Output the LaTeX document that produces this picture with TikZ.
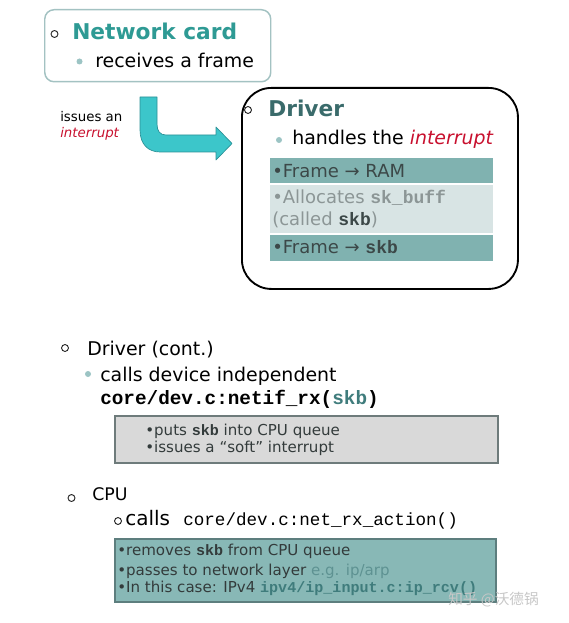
\documentclass[tikz,border=0pt]{standalone}
\usepackage{fontspec}
\setmainfont{DejaVu Sans}
\setmonofont{Liberation Mono}
\newfontfamily\cjkfont{Noto Sans CJK SC}
\usepackage{tikz}
\usetikzlibrary{
  positioning,
  calc
}
\definecolor{rxTeal}{HTML}{2E9A94}
\definecolor{rxDark}{HTML}{3A6B6B}
\definecolor{rxDot}{HTML}{9CC4C4}
\definecolor{rxFrame}{HTML}{A3C2C2}
\definecolor{rxArrow}{HTML}{3CC6CA}
\definecolor{rxArrowEdge}{HTML}{2B9096}
\definecolor{rxRed}{HTML}{C8102E}
\definecolor{rxBar}{HTML}{80B2B0}
\definecolor{rxBarLight}{HTML}{D8E4E4}
\definecolor{rxBarText}{HTML}{3C4848}
\definecolor{rxBarMute}{HTML}{8C9696}
\definecolor{rxGrey}{HTML}{D9D9D9}
\definecolor{rxGreyEdge}{HTML}{6E7B7B}
\definecolor{rxQueue}{HTML}{88B8B6}
\definecolor{rxQueueEdge}{HTML}{5D7E7E}
\definecolor{rxHint}{HTML}{5E9292}
\definecolor{rxCode}{HTML}{3F7C7C}
\definecolor{rxInk}{HTML}{333B3B}
\newcommand\rxcode[1]{{\ttfamily\bfseries #1}}
\tikzset{
  rxtext/.style={inner sep=0pt, anchor=base west},
  rxhead/.style={rxtext, font=\fontsize{16.3}{19}\selectfont\bfseries},
  rxitem/.style={rxtext, font=\fontsize{14.2}{17}\selectfont},
  rxnote/.style={rxtext, font=\fontsize{10}{12}\selectfont},
  rxsmall/.style={rxtext, font=\fontsize{11.3}{13}\selectfont, text=rxInk},
  rxbartext/.style={rxtext, font=\fontsize{13.5}{16}\selectfont, text=rxBarText},
  ring/.style={circle, draw=black!85, line width=0.7pt, minimum size=5.2pt, inner sep=0pt},
  dotmark/.style={circle, fill=rxDot, minimum size=4.5pt, inner sep=0pt},
  cardbox/.style={draw=rxFrame, line width=1.1pt, rounded corners=7pt, fill=white, anchor=north west, inner sep=0pt},
  drvbox/.style={draw=black, line width=1.4pt, rounded corners=22pt, anchor=north west, inner sep=0pt},
  strip/.style={fill=rxBar, anchor=north west, inner sep=0pt, minimum width=167.25pt},
  greybox/.style={fill=rxGrey, draw=rxGreyEdge, line width=1.4pt, anchor=north west, inner sep=0pt},
  queuebox/.style={fill=rxQueue, draw=rxQueueEdge, line width=1.4pt, anchor=north west, inner sep=0pt},
  bigarrow/.style={fill=rxArrow, draw=rxArrowEdge, line width=0.5pt, line join=round}
}
\begin{document}
\begin{tikzpicture}[x=0.75pt, y=-0.75pt, node distance=12pt]
  \useasboundingbox (0,0) rectangle (568,623);
  \node[cardbox, minimum width=169.5pt, minimum height=54pt] (nic) at (44,9) {};
  \node[ring] (nicring) at (54.5,34) {};
  \node[rxhead, text=rxTeal] (nictitle) at (72,40) {Network card};
  \node[dotmark] (nicdot) at (79.5,61.5) {};
  \node[rxitem] (nicitem) at (95,68) {receives a frame};

  \node[rxnote] (issue) at (60,122) {issues an};
  \node[rxnote, text=rxRed, below=12pt of issue.base west, anchor=base west] (issuered) {\itshape interrupt};
  \filldraw[bigarrow] (140,97) -- (157,97) -- (157,124) .. controls (157,131) and (160,135) .. (166,135)
    -- (216,135) -- (216,127) -- (232,143.5) -- (216,160) -- (216,152) -- (160,152)
    .. controls (148,152) and (140,144) .. (140,130) -- cycle;

  \node[drvbox, minimum width=207pt, minimum height=150.75pt] (drv) at (241,87) {};
  \node[ring] (drvring) at (248,110) {};
  \node[rxhead, text=rxDark] (drvtitle) at (268,117) {Driver};
  \node[dotmark] (drvdot) at (279,140) {};
  \node[rxitem] (drvitem) at (292,145) {handles the \textcolor{rxRed}{\itshape interrupt}};
  \node[strip, minimum height=18.75pt] (ram) at (270,158) {};
  \node[strip, fill=rxBarLight, minimum height=36pt] (alloc) at (270,185) {};
  \node[strip, minimum height=19.5pt] (toskb) at (270,235) {};
  \node[rxbartext] (ramtxt) at (272,178) {•Frame → RAM};
  \node[rxbartext, text=rxBarMute] (alloctxt) at (272,204) {•Allocates \rxcode{sk\_buff}};
  \node[rxbartext, text=rxBarMute, below=16pt of alloctxt.base west, anchor=base west] (calledtxt) {(called \textcolor{rxBarText}{\rxcode{skb}})};
  \node[rxbartext] (skbtxt) at (272,253) {•Frame → \rxcode{skb}};

  \node[ring] (contring) at (65,348) {};
  \node[rxitem] (cont) at (87,355) {Driver (cont.)};
  \node[dotmark] (contdot) at (88,374) {};
  \node[rxitem] (calls) at (100,381) {calls device independent};
  \node[rxtext, font=\fontsize{14.5}{17}\selectfont\ttfamily\bfseries, below=17.25pt of calls.base west, anchor=base west] (netif) {core/dev.c:netif\_rx(\textcolor{rxCode}{skb})};
  \node[greybox, minimum width=287.25pt, minimum height=35.25pt] (queue) at (114,415) {};
  \node[rxsmall] (puts) at (145,435) {•puts \rxcode{skb} into CPU queue};
  \node[rxsmall, below=12.75pt of puts.base west, anchor=base west] (soft) {•issues a “soft” interrupt};

  \node[ring] (cpuring) at (71.5,498) {};
  \node[rxtext, font=\fontsize{13}{16}\selectfont] (cpu) at (92,500) {CPU};
  \node[ring] (actring) at (118,521) {};
  \node[rxtext, font=\fontsize{15}{18}\selectfont] (act) at (125,525) {calls};
  \node[rxtext, font=\fontsize{13.2}{16}\selectfont\ttfamily] (action) at (183,525) {core/dev.c:net\_rx\_action()};
  \node[queuebox, minimum width=285.75pt, minimum height=47.25pt] (rxact) at (114,538) {};
  \node[rxsmall] (removes) at (117,555) {•removes \rxcode{skb} from CPU queue};
  \node[rxsmall] (passes) at (117,575) {•passes to network layer \textcolor{rxHint}{e.g. ip/arp}};
  \node[rxsmall] (ipv4) at (117,592) {•In this case: IPv4 \textcolor{rxCode}{\rxcode{ipv4/ip\_input.c:ip\_rcv()}}};
  \node[rxtext, font=\cjkfont\fontsize{11}{13}\selectfont, text=black!22] (mark) at (448,604) {知乎 @沃德锅};
\end{tikzpicture}
\end{document}
